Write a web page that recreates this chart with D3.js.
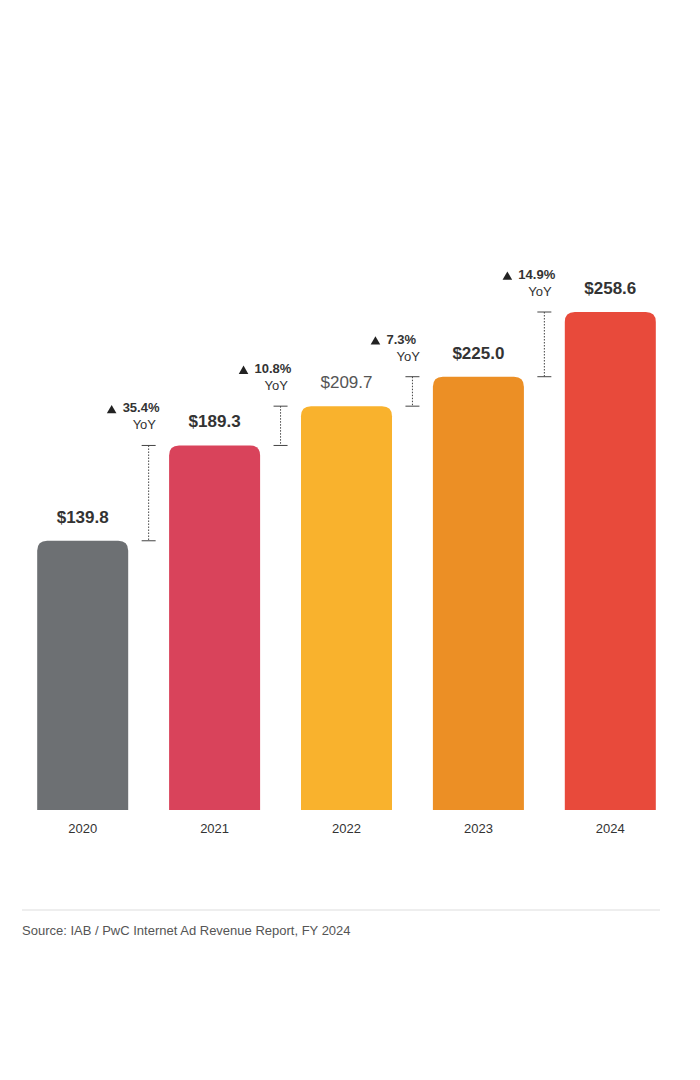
<!DOCTYPE html>
<html><head><meta charset="utf-8">
<script src="https://cdn.jsdelivr.net/npm/d3@7"></script>
<style>body{margin:0;background:#fff}svg{font-family:"Liberation Sans",Arial,sans-serif}</style>
</head><body><svg id="c" width="700" height="1080"></svg>
<script>
const years=["2020","2021","2022","2023","2024"];
const values=[139.8,189.3,209.7,225.0,258.6];
const valueLabels=["$139.8","$189.3","$209.7","$225.0","$258.6"];
const yoy=["35.4%","10.8%","7.3%","14.9%"];
const colors=["#6d7073","#d9435b","#f9b22d","#ec8f25","#e84a3b"];
const svg=d3.select("#c");
const x=d3.scaleBand().domain(years).range([24,669]).paddingInner(0.31).paddingOuter(0.1);
const y=d3.scaleLinear().domain([0,258.6]).range([810,312]);
const r=10;
years.forEach((yr,i)=>{
  const x0=x(yr),w=x.bandwidth(),t=y(values[i]),b=y(0);
  svg.append("path").attr("fill",colors[i]).attr("d",
   `M${x0},${b}V${t+r}Q${x0},${t} ${x0+r},${t}H${x0+w-r}Q${x0+w},${t} ${x0+w},${t+r}V${b}Z`);
  svg.append("text").attr("x",x0+w/2).attr("y",t-18).attr("text-anchor","middle")
   .attr("font-size",17).attr("font-weight",i===2?"normal":"bold").attr("fill",i===2?"#555":"#333").text(valueLabels[i]);
  svg.append("text").attr("x",x0+w/2).attr("y",833).attr("text-anchor","middle").attr("font-size",13).attr("fill","#333").text(yr);
});
yoy.forEach((p,i)=>{
  const xa=x(years[i])+x.bandwidth(), xb=x(years[i+1]);
  const cx=(xa+xb)/2, y1=y(values[i+1]), y2=y(values[i]);
  const g=svg.append("g").attr("stroke","#444").attr("stroke-width",1);
  g.append("line").attr("x1",cx).attr("x2",cx).attr("y1",y1).attr("y2",y2).attr("stroke-dasharray","1.5,1.5");
  [y1,y2].forEach(v=>g.append("line").attr("x1",cx-7).attr("x2",cx+7).attr("y1",v).attr("y2",v));
  const ty=y1-33;
  svg.append("path").attr("d",d3.symbol(d3.symbolTriangle,40)()).attr("transform",`translate(${cx-37},${ty-2})`).attr("fill","#222");
  svg.append("text").attr("x",cx-26).attr("y",ty).attr("font-size",13).attr("font-weight","bold").attr("fill","#333").text(p);
  svg.append("text").attr("x",cx-16).attr("y",ty+17).attr("font-size",13).attr("fill","#333").text("YoY");
});
svg.append("line").attr("x1",22).attr("x2",660).attr("y1",910).attr("y2",910).attr("stroke","#ddd");
svg.append("text").attr("x",22).attr("y",935).attr("font-size",13).attr("fill","#555").text("Source:  IAB / PwC Internet Ad Revenue Report, FY 2024");
</script></body></html>
